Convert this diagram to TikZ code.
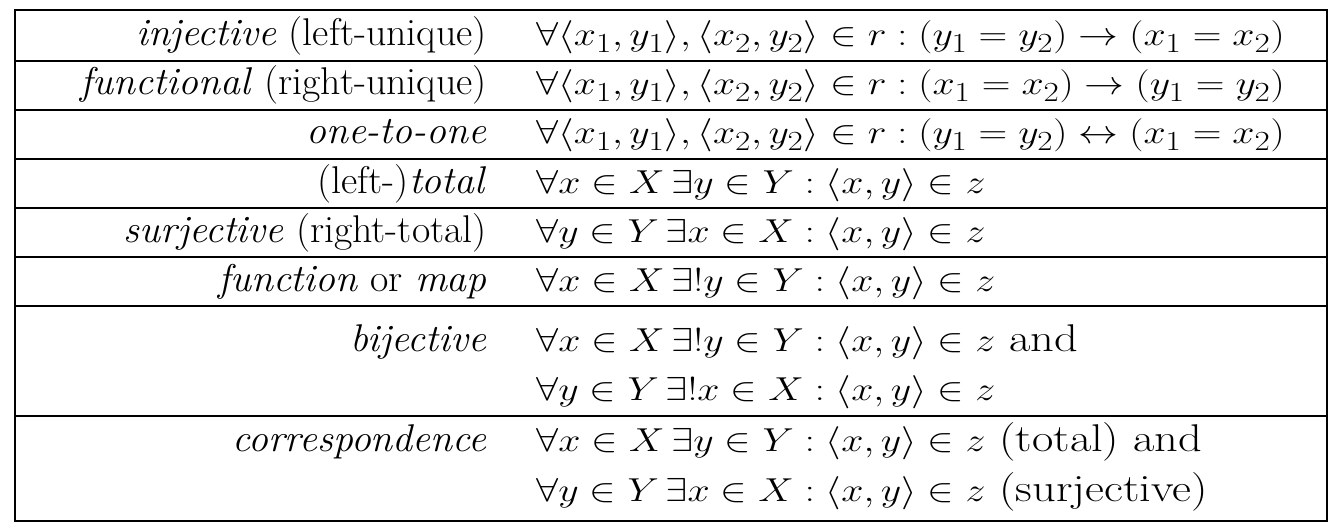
\documentclass[tikz,border=0pt]{standalone}
\usepackage{amsmath,amssymb}
\begin{document}
\begin{tikzpicture}[x=0.75pt,y=-0.75pt,
  lt/.style={anchor=base east,inner sep=0pt,xscale=1.03,font=\fontsize{29}{34}\selectfont},
  rt/.style={anchor=base west,inner sep=0pt,xscale=1.2,font=\fontsize{29}{34}\selectfont},
  rule/.style={line width=1.3pt}]
\useasboundingbox (0,0) rectangle (1342,530);
\draw[rule] (15,10) rectangle (1327,521);
\foreach \y in {61,110,159,208,257,306,416} \draw[rule] (15,\y) -- (1327,\y);
\node[lt] (l1) at (487,46) {\emph{injective} (left-unique)};
\node[rt] (r1) at (536,46) {$\forall\langle x_1,y_1\rangle,\langle x_2,y_2\rangle\in r:(y_1=y_2)\rightarrow(x_1=x_2)$};
\node[lt] (l2) at (487,95) {\emph{functional} (right-unique)};
\node[rt] (r2) at (536,95) {$\forall\langle x_1,y_1\rangle,\langle x_2,y_2\rangle\in r:(x_1=x_2)\rightarrow(y_1=y_2)$};
\node[lt] (l3) at (487,144) {\emph{one-to-one}};
\node[rt] (r3) at (536,144) {$\forall\langle x_1,y_1\rangle,\langle x_2,y_2\rangle\in r:(y_1=y_2)\leftrightarrow(x_1=x_2)$};
\node[lt] (l4) at (487,194) {(left-)\emph{total}};
\node[rt] (r4) at (536,194) {$\forall x\in X\,\exists y\in Y:\langle x,y\rangle\in z$};
\node[lt] (l5) at (487,243) {\emph{surjective} (right-total)};
\node[rt] (r5) at (536,243) {$\forall y\in Y\,\exists x\in X:\langle x,y\rangle\in z$};
\node[lt] (l6) at (487,292) {\emph{function} or \emph{map}};
\node[rt] (r6) at (536,292) {$\forall x\in X\,\exists!y\in Y:\langle x,y\rangle\in z$};
\node[lt] (l7) at (487,352) {\emph{bijective}};
\node[rt] (r7a) at (536,352) {$\forall x\in X\,\exists!y\in Y:\langle x,y\rangle\in z$ and};
\node[rt] (r7b) at (536,401) {$\forall y\in Y\,\exists!x\in X:\langle x,y\rangle\in z$};
\node[lt] (l8) at (487,452) {\emph{correspondence}};
\node[rt] (r8a) at (536,452) {$\forall x\in X\,\exists y\in Y:\langle x,y\rangle\in z$ (total) and};
\node[rt] (r8b) at (536,502) {$\forall y\in Y\,\exists x\in X:\langle x,y\rangle\in z$ (surjective)};
\end{tikzpicture}
\end{document}
